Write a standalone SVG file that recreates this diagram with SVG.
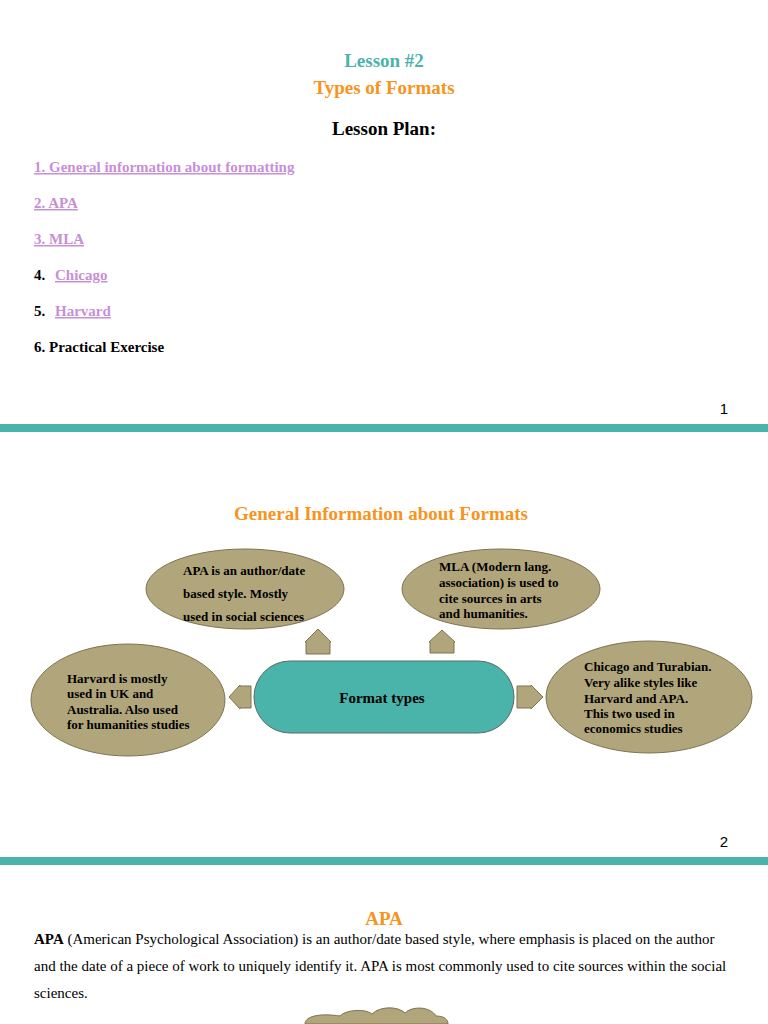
<svg xmlns="http://www.w3.org/2000/svg" width="768" height="1024" viewBox="0 0 768 1024">
<style>
text{font-family:"Liberation Serif",serif}
.b{font-weight:bold}
.lk{fill:#c88fd6;font-size:15px;font-weight:bold;text-decoration:underline}
.it{font-size:15px;font-weight:bold;fill:#000}
.el{fill:#b1a67b;stroke:#7d7352;stroke-width:1}
.nt{font-size:13px;font-weight:bold;fill:#000}
.ar{fill:#b1a67b;stroke:#7d7352;stroke-width:1}
.sep{fill:#4ab3aa}
.pg{font-family:"Liberation Sans",sans-serif;font-size:15px;fill:#000}
.body{font-size:15px;fill:#000}
</style>
<rect width="768" height="1024" fill="#fff"/>
<text x="384" y="67" text-anchor="middle" class="b" font-size="19" fill="#4ab3aa">Lesson #2</text>
<text x="384" y="94" text-anchor="middle" class="b" font-size="19" fill="#f7941d">Types of Formats</text>
<text x="384" y="135" text-anchor="middle" class="b" font-size="19" fill="#000">Lesson Plan:</text>
<text x="34" y="172" class="lk">1.    General information about formatting</text>
<text x="34" y="208" class="lk">2.    APA</text>
<text x="34" y="244" class="lk">3.    MLA</text>
<text x="34" y="280" class="it">4.</text><text x="55" y="280" class="lk">Chicago</text>
<text x="34" y="316" class="it">5.</text><text x="55" y="316" class="lk">Harvard</text>
<text x="34" y="352" class="it">6.  Practical Exercise</text>
<text x="728" y="414" text-anchor="end" class="pg">1</text>
<rect class="sep" x="0" y="424" width="768" height="8"/>
<text x="381" y="520" text-anchor="middle" class="b" font-size="19" fill="#f7941d">General Information about Formats</text>
<g id="connectors">
<path class="ar" d="M306 654 V642 H305 L318 629 L331 642 H330 V654 Z"/>
<path class="ar" d="M430 653 V642 H429 L442 630 L455 642 H454 V653 Z"/>
<path class="ar" d="M251 686 H240 V685 L229 697 L240 709 V708 H251 Z"/>
<path class="ar" d="M517 686 H531 V685 L543 697 L531 709 V708 H517 Z"/>
</g>
<g id="apa"><ellipse class="el" cx="245" cy="589" rx="99" ry="40"/>
<text class="nt"><tspan x="183" y="575">APA is an author/date</tspan><tspan x="183" y="598">based style. Mostly</tspan><tspan x="183" y="621">used in social sciences</tspan></text></g>
<g id="mla"><ellipse class="el" cx="501" cy="589" rx="99" ry="40"/>
<text class="nt"><tspan x="439" y="571">MLA (Modern lang.</tspan><tspan x="439" y="587">association) is used to</tspan><tspan x="439" y="603">cite sources in arts</tspan><tspan x="439" y="618">and humanities.</tspan></text></g>
<g id="harvard"><ellipse class="el" cx="128" cy="700" rx="97" ry="56"/>
<text class="nt"><tspan x="67" y="683">Harvard is mostly</tspan><tspan x="67" y="698">used in UK and</tspan><tspan x="67" y="714">Australia. Also used</tspan><tspan x="67" y="729">for humanities studies</tspan></text></g>
<g id="chicago"><ellipse class="el" cx="649" cy="697" rx="103" ry="56"/>
<text class="nt"><tspan x="584" y="671">Chicago and Turabian.</tspan><tspan x="584" y="687">Very alike styles like</tspan><tspan x="584" y="703">Harvard and APA.</tspan><tspan x="584" y="718">This two used in</tspan><tspan x="584" y="733">economics studies</tspan></text></g>
<g id="format"><rect x="254" y="661" width="260" height="72" rx="36" fill="#4ab3aa" stroke="#5a6b60"/>
<text x="382" y="703" text-anchor="middle" class="b" font-size="15" fill="#000">Format types</text></g>
<text x="728" y="847" text-anchor="end" class="pg">2</text>
<rect class="sep" x="0" y="857" width="768" height="8"/>
<text x="384" y="925" text-anchor="middle" class="b" font-size="19" fill="#f7941d">APA</text>
<text class="body"><tspan x="34" y="944"><tspan font-weight="bold">APA</tspan> (American Psychological Association) is an author/date based style, where emphasis is placed on the author</tspan><tspan x="34" y="971">and the date of a piece of work to uniquely identify it. APA is most commonly used to cite sources within the social</tspan><tspan x="34" y="998">sciences.</tspan></text>
<path class="el" d="M305 1024 C305 1016 320 1013 340 1016 C345 1010 365 1008 372 1014 C380 1006 398 1006 405 1013 C412 1006 430 1006 436 1016 C445 1016 448 1020 448 1024 Z"/>
</svg>
